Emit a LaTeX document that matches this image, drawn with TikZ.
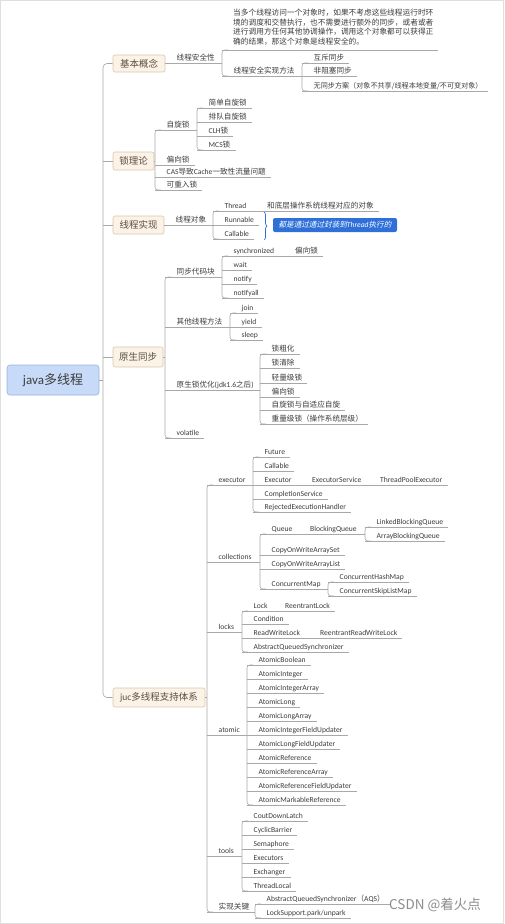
\documentclass[tikz,border=0pt]{standalone}
\usepackage{fontspec}
\setmainfont{Carlito}
\newfontfamily\cjk{Noto Sans CJK SC}
\newfontfamily\cjkit[FakeSlant=0.2]{Noto Sans CJK SC}
\usetikzlibrary{decorations.pathreplacing}
\definecolor{lnc}{HTML}{A8A8A8}
\definecolor{txc}{HTML}{3C3C3C}
\definecolor{bxf}{HTML}{FBF3E7}
\definecolor{bxd}{HTML}{D9C7A8}
\definecolor{bxt}{HTML}{5E4E3E}
\definecolor{rtf}{HTML}{C7DBF8}
\definecolor{rtd}{HTML}{93B3E3}
\definecolor{bluebx}{HTML}{2E6FD8}
\definecolor{wmc}{HTML}{8C8C8C}
% leaf topic: name, line start x, line y, text (line ends after text)
\newcommand\tp[4]{\node[tt] (#1) at (#2+6.5,#3-3) {#4};\coordinate (#1-l) at (#2,#3);\draw[ln] (#1-l) -- (#1.east |- #1-l);}
% topic with explicit line end: name, x1, y, x2, text
\newcommand\tpc[5]{\node[tt] (#1) at (#2+6.5,#3-3) {#5};\draw[ln] (#2,#3) -- (#4,#3);}
% bracket: x, top y, bottom y
\newcommand\brk[3]{\draw[ln,rounded corners=3pt] (#1+6,#2) -- (#1,#2) -- (#1,#3) -- (#1+6,#3);}
\begin{document}
\begin{tikzpicture}[x=1pt,y=-1pt,
  ln/.style={draw=lnc,line width=0.6pt},
  tt/.style={anchor=base west,inner xsep=5pt,inner ysep=0pt,text=txc,font=\fontsize{7.6}{9}\selectfont},
  tx0/.style={anchor=base west,inner sep=0pt,text=txc,font=\cjk\fontsize{7.7}{9}\selectfont},
  mbox/.style={draw=bxd,fill=bxf,rounded corners=2pt,text=bxt,inner sep=0pt,line width=0.6pt,font=\cjk\fontsize{9.5}{11}\selectfont}]
\useasboundingbox (0,0) rectangle (504,924);
\draw[gray!25] (0.5,0.5) rectangle (503.5,923.5);

% root and main boxes
\node[draw=rtd,fill=rtf,rounded corners=3pt,minimum width=92pt,minimum height=30pt,inner sep=0pt,line width=0.6pt,text=txc,font=\fontsize{13}{15}\selectfont] (root) at (53,380) {java{\cjk 多线程}};
\node[mbox,minimum width=52pt,minimum height=17pt] (b1) at (139,63.5) {基本概念};
\node[mbox,minimum width=41pt,minimum height=18pt] (b2) at (133.5,161) {锁理论};
\node[mbox,minimum width=51pt,minimum height=18pt] (b3) at (138.5,225) {线程实现};
\node[mbox,minimum width=50pt,minimum height=20pt] (b4) at (138,357) {原生同步};
\node[mbox,minimum width=92pt,minimum height=19pt] (b5) at (159,697.5) {{\fontspec{Carlito}juc}多线程支持体系};

\draw[ln,rounded corners=4pt] (b1.west) -- (103,63.5) -- (103,697.5) -- (b5.west);
\draw[ln] (root.east) -- (103,380);
\draw[ln] (103,161) -- (b2.west);
\draw[ln] (103,225) -- (b3.west);
\draw[ln] (103,357) -- (b4.west);

% ===== 基本概念
\tpc{aqx}{165}{63.5}{222}{\cjk 线程安全性}
\brk{222}{50}{76}
\draw[ln] (222,50) -- (438,50);
\node[tx0] (d1) at (233,15.5) {当多个线程访问一个对象时，如果不考虑这些线程运行时环};
\node[tx0] (d2) at (233,25) {境的调度和交替执行，也不需要进行额外的同步，或者或者};
\node[tx0] (d3) at (233,34.5) {进行调用方任何其他协调操作，调用这个对象都可以获得正};
\node[tx0] (d4) at (233,44) {确的结果，那这个对象是线程安全的。};
\tpc{ssff}{222}{76}{302}{\cjk 线程安全实现方法}
\brk{302}{63}{91}
\tp{hc}{302}{63}{\cjk 互斥同步}
\tp{fz}{302}{76}{\cjk 非阻塞同步}
\tp{wt}{302}{91}{\cjk\fontsize{7.1}{9}\selectfont 无同步方案（对象不共享/线程本地变量/不可变对象）}

% ===== 锁理论
\draw[ln] (b2.east) -- (155,161);
\brk{155}{130}{190}
\tpc{zx}{155}{130}{197}{\cjk 自旋锁}
\brk{197}{108}{150}
\tp{jd}{197}{108}{\cjk 简单自旋锁}
\tp{pd}{197}{122}{\cjk 排队自旋锁}
\tp{clh}{197}{136}{CLH{\cjk 锁}}
\tp{mcs}{197}{150}{MCS{\cjk 锁}}
\tp{px}{155}{165}{\cjk 偏向锁}
\tp{cas}{155}{177}{CAS{\cjk 导致}Cache{\cjk 一致性流量问题}}
\tp{kcr}{155}{190}{\cjk 可重入锁}

% ===== 线程实现
\tpc{xcdx}{164}{225}{213}{\cjk 线程对象}
\brk{213}{211}{239}
\tpc{thr}{213}{211}{255.5}{Thread}
\tp{thd}{255.5}{211}{\cjk 和底层操作系统线程对应的对象}
\tp{run}{213}{225}{Runnable}
\tp{cal}{213}{239}{Callable}
\draw[bluebx,line width=0.7pt,decorate,decoration={brace,amplitude=3pt}] (264,212) -- (264,240);
\node[fill=bluebx,rounded corners=2pt,minimum width=124pt,minimum height=14pt,inner sep=0pt,text=white,font=\fontsize{7.6}{9}\selectfont] (note) at (335,225) {{\cjkit 都是通过通过封装到}{\itshape Thread}{\cjkit 执行的}};

% ===== 原生同步
\draw[ln] (b4.east) -- (165,357);
\brk{165}{277}{438}
\tpc{tb}{165}{277}{222}{\cjk 同步代码块}
\brk{222}{256}{298}
\tpc{syn}{222}{256}{283.5}{synchronized}
\tp{synp}{283.5}{256}{\cjk 偏向锁}
\tp{wait}{222}{270.5}{wait}
\tp{ntf}{222}{284.5}{notify}
\tp{ntfa}{222}{298}{notifyall}
\tpc{qt}{165}{327}{230}{\cjk 其他线程方法}
\brk{230}{313}{340}
\tp{join}{230}{313}{join}
\tp{yld}{230}{327}{yield}
\tp{slp}{230}{340}{sleep}
\tpc{yh}{165}{390}{260}{{\cjk 原生锁优化}(jdk1.6{\cjk 之后})}
\brk{260}{354}{424}
\tp{o1}{260}{354}{\cjk 锁粗化}
\tp{o2}{260}{368}{\cjk 锁清除}
\tp{o3}{260}{383}{\cjk 轻量级锁}
\tp{o4}{260}{397}{\cjk 偏向锁}
\tp{o5}{260}{410}{\cjk 自旋锁与自适应自旋}
\tp{o6}{260}{424}{\cjk 重量级锁（操作系统层级）}
\tp{vol}{165}{438}{volatile}

% ===== juc
\draw[ln] (b5.east) -- (207,697.5);
\brk{207}{485}{912}
\tpc{exe}{207}{485}{253}{executor}
\brk{253}{457}{512}
\tp{fut}{253}{457}{Future}
\tp{calb}{253}{471}{Callable}
\tpc{exr}{253}{485}{300.5}{Executor}
\tpc{exs}{300.5}{485}{368.5}{ExecutorService}
\tp{tpe}{368.5}{485}{ThreadPoolExecutor}
\tp{cs}{253}{499}{CompletionService}
\tp{reh}{253}{512}{RejectedExecutionHandler}

\tpc{col}{207}{562}{260}{collections}
\brk{260}{534}{589}
\tpc{que}{260}{534}{298.5}{Queue}
\tpc{bq}{298.5}{534}{365}{BlockingQueue}
\brk{365}{527}{541}
\tp{lbq}{365}{527}{LinkedBlockingQueue}
\tp{abq}{365}{541}{ArrayBlockingQueue}
\tp{cows}{260}{555}{CopyOnWriteArraySet}
\tp{cowl}{260}{569}{CopyOnWriteArrayList}
\tpc{cm}{260}{589}{328}{ConcurrentMap}
\brk{328}{582}{596}
\tp{chm}{328}{582}{ConcurrentHashMap}
\tp{csl}{328}{596}{ConcurrentSkipListMap}

\tpc{lks}{207}{632}{242}{locks}
\brk{242}{611}{652}
\tpc{lock}{242}{611}{273.5}{Lock}
\tp{rl}{273.5}{611}{ReentrantLock}
\tp{cond}{242}{624.5}{Condition}
\tpc{rwl}{242}{638}{308.5}{ReadWriteLock}
\tp{rrwl}{308.5}{638}{ReentrantReadWriteLock}
\tp{aqsa}{242}{652}{AbstractQueuedSynchronizer}

\tpc{atm}{207}{735}{247}{atomic}
\brk{247}{665}{805}
\foreach \nm [count=\i from 0] in {AtomicBoolean,AtomicInteger,AtomicIntegerArray,AtomicLong,AtomicLongArray,AtomicIntegerFieldUpdater,AtomicLongFieldUpdater,AtomicReference,AtomicReferenceArray,AtomicReferenceFieldUpdater,AtomicMarkableReference}{
  \tp{at\i}{247}{665+14*\i}{\nm}
}

\tpc{tls}{207}{856}{242}{tools}
\brk{242}{821}{891}
\foreach \nm [count=\i from 0] in {CoutDownLatch,CyclicBarrier,Semaphore,Executors,Exchanger,ThreadLocal}{
  \tp{tl\i}{242}{821+14*\i}{\nm}
}

\tpc{sx}{207}{912}{255}{\cjk 实现关键}
\brk{255}{904}{918}
\tp{aqsb}{255}{904}{AbstractQueuedSynchronizer{\cjk （}AQS{\cjk ）}}
\tp{lsp}{255}{918}{LockSupport.park/unpark}

% watermark
\node[anchor=west,inner sep=0pt,text=wmc,font=\cjk\fontsize{13.5}{15}\selectfont] (wm) at (389,905) {CSDN @着火点};
\end{tikzpicture}
\end{document}
